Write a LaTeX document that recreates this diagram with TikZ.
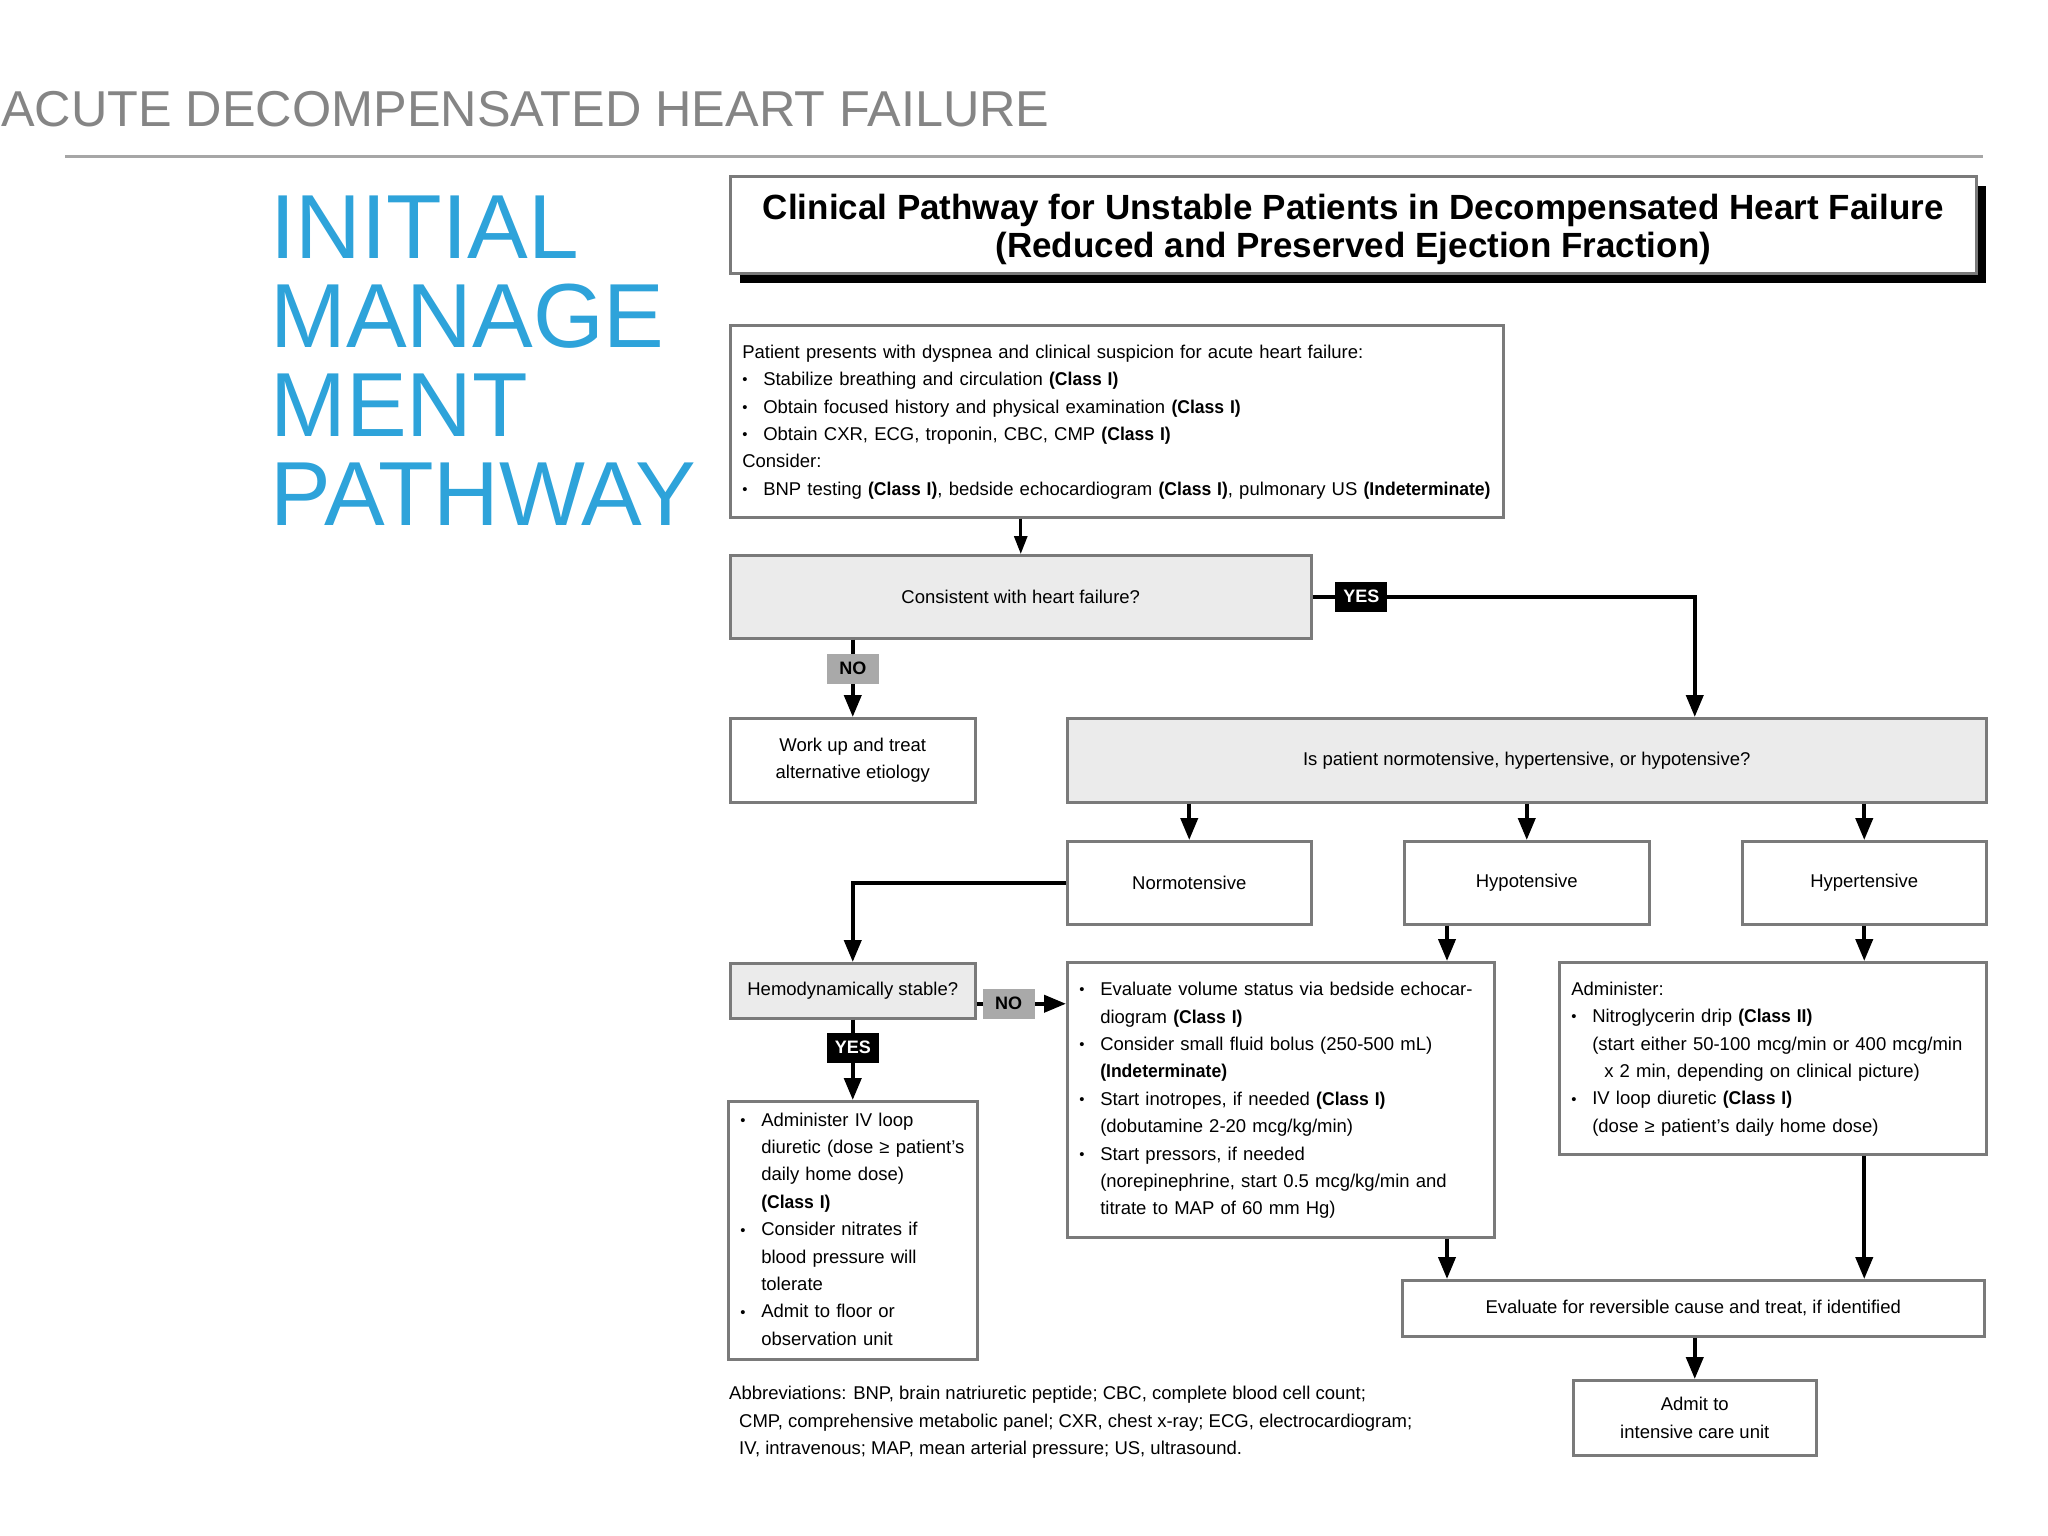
\documentclass[tikz,border=0pt]{standalone}
\usepackage{fontspec}
\setmainfont{Liberation Sans}
\usetikzlibrary{positioning,arrows.meta,shadows}
\definecolor{hdgray}{HTML}{858585}
\definecolor{rulegray}{HTML}{A6A6A6}
\definecolor{ttlblue}{HTML}{2EA3DA}
\definecolor{boxgray}{HTML}{EBEBEB}
\definecolor{edgegray}{HTML}{7A7A7A}
\definecolor{nogray}{HTML}{A9A9A9}
\newcommand{\bul}{\makebox[21pt][l]{\raisebox{0.04em}{\scalebox{0.8}{\textbullet}}}}
\newcommand{\ind}{\hspace*{21pt}}
\newcommand{\cls}[1]{\scalebox{0.95}[1]{\textbf{(#1)}}}
\newcommand{\lines}[1]{\begin{tabular}{@{}l@{}}#1\end{tabular}}

\begin{document}
\begin{tikzpicture}[x=1pt, y=-1pt,
	box/.style={draw=edgegray, line width=2.5pt, rectangle, inner sep=0pt, anchor=north west, align=center, font=\fontsize{18.5}{27.4}\selectfont},
	gbox/.style={fill=boxgray},
	lbox/.style={align=left, inner xsep=12pt},
	arr/.style={line width=4pt, -{Triangle[length=22pt,width=17pt]}},
	thinarr/.style={line width=3pt, -{Triangle[length=18pt,width=13pt]}},
	yeslab/.style={fill=black, text=white, font=\fontsize{18}{18}\bfseries\selectfont, minimum width=52pt, minimum height=30pt, inner sep=0pt},
	nolab/.style={yeslab, fill=nogray, text=black},
	ttlline/.style={anchor=base west, inner sep=0pt, text=ttlblue, font=\fontsize{91}{91}\selectfont}]
		\clip (0,0) rectangle (2048,1536);
		\fill[white] (0,0) rectangle (2048,1536);

		\node[anchor=base west, inner sep=0pt, text=hdgray, font=\fontsize{50.4}{50.4}\selectfont] (hdr) at (1,127) {ACUTE DECOMPENSATED HEART FAILURE};
		\draw[rulegray, line width=3pt] (65,157) -- (1983,157);
		\foreach \w [count=\i from 0] in {INITIAL,MANAGE,MENT,PATHWAY}
			\node[ttlline] (ttl\i) at (270,{258+89*\i}) {\w};

		\node[box, fill=white, drop shadow={shadow xshift=10pt, shadow yshift=-10pt, fill=black, opacity=1}, minimum width=1246pt, minimum height=97pt, font=\fontsize{35}{38}\bfseries\selectfont] (head) at (729,175) {\rule{0pt}{34pt}Clinical Pathway for Unstable Patients in Decompensated Heart Failure\\(Reduced and Preserved Ejection Fraction)};

		\node[box, lbox, text width=749pt, minimum height=192pt] (init) at (729,324) {\lines{Patient presents with dyspnea and clinical suspicion for acute heart failure:\\
			\bul Stabilize breathing and circulation \cls{Class I}\\
			\bul Obtain focused history and physical examination \cls{Class I}\\
			\bul Obtain CXR, ECG, troponin, CBC, CMP \cls{Class I}\\
			Consider:\\
			\bul BNP testing \cls{Class I}, bedside echocardiogram \cls{Class I}, pulmonary US \cls{Indeterminate}}};
		\node[box, gbox, minimum width=581pt, minimum height=83pt] (cons) at (729,554) {Consistent with heart failure?};
		\node[box, minimum width=245pt, minimum height=84pt] (workup) at (729,717) {Work up and treat\\alternative etiology};
		\node[box, gbox, minimum width=919pt, minimum height=84pt] (ptype) at (1066,717) {Is patient normotensive, hypertensive, or hypotensive?};
		\node[box, minimum width=244pt, minimum height=83pt] (normo) at (1066,840) {Normotensive};
		\node[box, minimum width=245pt, minimum height=83pt] (hypo) at (1403,840) {Hypotensive};
		\node[box, minimum width=244pt, minimum height=83pt] (hyper) at (1741,840) {Hypertensive};
		\node[box, gbox, minimum width=245pt, minimum height=55pt] (hemo) at (729,962) {Hemodynamically stable?};
		\node[box, lbox, text width=225pt, minimum height=258pt] (ivloop) at (727,1100) {\lines{\bul Administer IV loop\\
			\ind diuretic (dose ≥ patient's\\
			\ind daily home dose)\\
			\ind \cls{Class I}\\
			\bul Consider nitrates if\\
			\ind blood pressure will\\
			\ind tolerate\\
			\bul Admit to floor or\\
			\ind observation unit}};
		\node[box, lbox, text width=403pt, minimum height=275pt] (hypotx) at (1066,961) {\lines{\bul Evaluate volume status via bedside echocar-\\
			\ind diogram \cls{Class I}\\
			\bul Consider small fluid bolus (250-500 mL)\\
			\ind \cls{Indeterminate}\\
			\bul Start inotropes, if needed \cls{Class I}\\
			\ind (dobutamine 2-20 mcg/kg/min)\\
			\bul Start pressors, if needed\\
			\ind (norepinephrine, start 0.5 mcg/kg/min and\\
			\ind titrate to MAP of 60 mm Hg)}};
		\node[box, lbox, text width=403pt, minimum height=192pt] (hypertx) at (1558,961) {\lines{Administer:\\
			\bul Nitroglycerin drip \cls{Class II}\\
			\ind (start either 50-100 mcg/min or 400 mcg/min\\
			\ind\hspace*{12pt}x 2 min, depending on clinical picture)\\
			\bul IV loop diuretic \cls{Class I}\\
			\ind (dose ≥ patient's daily home dose)}};
		\node[box, minimum width=582pt, minimum height=56pt] (evalb) at (1401,1279) {Evaluate for reversible cause and treat, if identified};
		\node[box, minimum width=243pt, minimum height=75pt] (admit) at (1572,1379) {Admit to\\intensive care unit};
		\node[anchor=north west, inner sep=0pt, align=left, font=\fontsize{18.5}{27.4}\selectfont] (abbr) at (729,1386) {Abbreviations: BNP, brain natriuretic peptide; CBC, complete blood cell count;\\
			\hspace*{10pt}CMP, comprehensive metabolic panel; CXR, chest x-ray; ECG, electrocardiogram;\\
			\hspace*{10pt}IV, intravenous; MAP, mean arterial pressure; US, ultrasound.};

		\coordinate (hemono) at ([yshift=-13pt]hemo.east);
		\coordinate (hypox) at ([xshift=44pt]hypo.south west);

		\draw[thinarr] (cons.north |- init.south) -- (cons.north);
		\draw[arr] (cons.east) -| node[yeslab, pos=0.064] {YES} (ptype.north -| admit.north);
		\draw[arr] (cons.south -| workup.north) -- node[nolab, pos=0.375] {NO} (workup.north);
		\foreach \n in {normo,hypo,hyper}
			\draw[arr] (ptype.south -| \n.north) -- (\n.north);
		\draw[arr] (normo.west) -| (hemo.north);
		\draw[arr] (hemono) -- node[nolab, pos=0.36] {NO} (hemono -| hypotx.west);
		\draw[arr] (hemo.south) -- node[yeslab, pos=0.35] {YES} (ivloop.north);
		\draw[arr] (hypox) -- (hypox |- hypotx.north);
		\draw[arr] (hypox |- hypotx.south) -- (hypox |- evalb.north);
		\draw[arr] (hyper.south) -- (hyper.south |- hypertx.north);
		\draw[arr] (hyper.south |- hypertx.south) -- (hyper.south |- evalb.north);
		\draw[arr] (evalb.south -| admit.north) -- (admit.north);
	\end{tikzpicture}
\end{document}
